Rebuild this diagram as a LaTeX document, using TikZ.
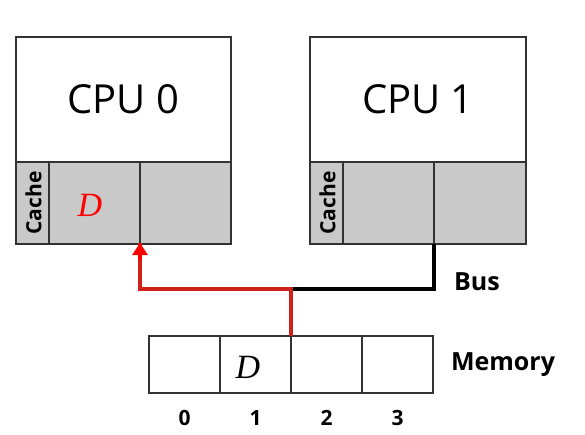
\documentclass[tikz,border=0pt]{standalone}
\usepackage{fontspec}
\setmainfont{Open Sans}
\newfontfamily\dfont{Liberation Serif}
\usetikzlibrary{arrows.meta}
\definecolor{boxline}{HTML}{333333}
\definecolor{cachegray}{HTML}{C9C9C9}
\definecolor{busred}{HTML}{D0201A}
\begin{document}
\begin{tikzpicture}[x=1pt,y=-1pt,
  box/.style={draw=boxline,line width=2pt,inner sep=0pt,outer sep=0pt,minimum height=#1},
  cpubox/.style={box=125pt,fill=white,font=\fontsize{40}{44}\selectfont},
  strip/.style={box=82pt,fill=cachegray,minimum width=33pt},
  cell/.style={box=82pt,fill=cachegray},
  memcell/.style={box=57pt,fill=white,minimum width=71pt},
  dtext/.style={font=\dfont\itshape\fontsize{34}{36}\selectfont},
  lbl/.style={font=\bfseries\fontsize{25}{28}\selectfont},
  idx/.style={font=\bfseries\fontsize{21}{24}\selectfont},
  striplbl/.style={rotate=90,font=\bfseries\fontsize{21}{24}\selectfont},
  bus/.style={line width=3.4pt},
]
\useasboundingbox (0,0) rectangle (585,435);
% CPU 0
\node[cpubox,minimum width=215pt] (cpu0) at (123.5,99.5) {CPU 0};
\node[strip] (s0) at (32.5,203) {};
\node[striplbl] (s0t) at (33.5,203) {Cache};
\node[cell,minimum width=91pt] (c0a) at (94.5,203) {};
\node[dtext,text=red] (d0) at (90,205) {D};
\node[cell,minimum width=91pt] (c0b) at (185.5,203) {};
% CPU 1
\node[cpubox,minimum width=216pt] (cpu1) at (418,99.5) {CPU 1};
\node[strip] (s1) at (326.5,203) {};
\node[striplbl] (s1t) at (327.5,203) {Cache};
\node[cell,minimum width=91pt] (c1a) at (388.5,203) {};
\node[cell,minimum width=92pt] (c1b) at (480,203) {};
% Memory
\node[memcell] (m0) at (184.5,364.5) {};
\node[memcell] (m1) at (255.5,364.5) {};
\node[memcell] (m2) at (326.5,364.5) {};
\node[memcell] (m3) at (397.5,364.5) {};
\node[dtext] (d1) at (248,367) {D};
\node[idx] (i0) at (184.5,418) {0};
\node[idx] (i1) at (255.5,418) {1};
\node[idx] (i2) at (326.5,418) {2};
\node[idx] (i3) at (397.5,418) {3};
\node[lbl] (mem) at (503,365) {Memory};
\node[lbl] (buslbl) at (477,282) {Bus};
% Bus
\coordinate (bj) at (291,289);
\draw[bus,black] (c1b.south west) |- (bj);
\draw[bus,busred] (m2.north west) -- (bj) -| ([yshift=1pt]c0b.south west);
\draw[bus,red,-{Triangle[width=15pt,length=12pt]}] ([yshift=-16pt]c0b.south west) -- ([yshift=1pt]c0b.south west);
\end{tikzpicture}
\end{document}
